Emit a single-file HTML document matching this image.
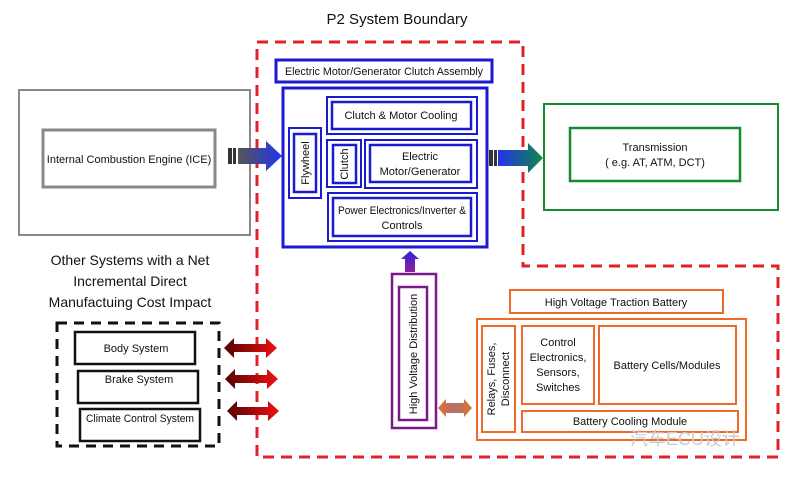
<!DOCTYPE html>
<html><head><meta charset="utf-8"><style>
html,body{margin:0;padding:0;background:#fff;}
svg{display:block;font-family:"Liberation Sans",Arial,sans-serif;}
</style></head><body>
<svg width="800" height="480" viewBox="0 0 800 480" xmlns="http://www.w3.org/2000/svg">
<defs>
<linearGradient id="gb" x1="0" x2="1"><stop offset="0" stop-color="#555"/><stop offset="1" stop-color="#2233ee"/></linearGradient>
<linearGradient id="bg" x1="0" x2="1"><stop offset="0" stop-color="#2233ee"/><stop offset="1" stop-color="#118844"/></linearGradient>
<linearGradient id="pu" x1="0" y1="0" x2="0" y2="1"><stop offset="0" stop-color="#3322dd"/><stop offset="1" stop-color="#882299"/></linearGradient>
<linearGradient id="rd" x1="0" x2="1"><stop offset="0" stop-color="#550000"/><stop offset="1" stop-color="#ee1111"/></linearGradient>
<linearGradient id="or" x1="0" x2="1"><stop offset="0" stop-color="#e07030"/><stop offset="0.5" stop-color="#b07070"/><stop offset="1" stop-color="#e07030"/></linearGradient>
</defs>
<text x="397" y="24" font-size="15" text-anchor="middle" fill="#111">P2 System Boundary</text>
<path d="M257,42 H523 V266 H778 V457 H257 Z" fill="none" stroke="#e0202a" stroke-width="3" stroke-dasharray="11,7"/>
<rect x="19" y="90" width="231" height="145" fill="none" stroke="#888" stroke-width="2"/>
<rect x="43" y="130" width="172" height="57" fill="none" stroke="#888" stroke-width="3"/>
<text x="129" y="163" font-size="11" text-anchor="middle" fill="#111">Internal Combustion Engine (ICE)</text>
<rect x="228" y="148" width="4" height="16" fill="#333"/><rect x="233" y="148" width="3" height="16" fill="#333"/>
<polygon points="238,148 266,148 266,141 282,156 266,171 266,164 238,164" fill="url(#gb)"/>
<rect x="276" y="60" width="216" height="22" fill="none" stroke="#1a1ad0" stroke-width="3"/>
<text x="384" y="75" font-size="11" text-anchor="middle" fill="#111" textLength="198" lengthAdjust="spacingAndGlyphs">Electric Motor/Generator Clutch Assembly</text>
<rect x="283" y="88" width="204" height="159" fill="none" stroke="#1a1ad0" stroke-width="3"/>
<rect x="289" y="128" width="32" height="70" fill="none" stroke="#1a1ad0" stroke-width="2"/>
<rect x="294" y="134" width="22" height="58" fill="none" stroke="#1a1ad0" stroke-width="2.5"/>
<text transform="translate(309,163) rotate(-90)" font-size="11" text-anchor="middle" fill="#111">Flywheel</text>
<rect x="327" y="97" width="150" height="37" fill="none" stroke="#1a1ad0" stroke-width="2"/>
<rect x="332" y="102" width="139" height="27" fill="none" stroke="#1a1ad0" stroke-width="2.5"/>
<text x="401" y="119" font-size="11" text-anchor="middle" fill="#111">Clutch &amp; Motor Cooling</text>
<rect x="327" y="140" width="34" height="47" fill="none" stroke="#1a1ad0" stroke-width="2"/>
<rect x="333" y="145" width="23" height="38" fill="none" stroke="#1a1ad0" stroke-width="2.5"/>
<text transform="translate(348,164) rotate(-90)" font-size="11" text-anchor="middle" fill="#111">Clutch</text>
<rect x="365" y="140" width="112" height="48" fill="none" stroke="#1a1ad0" stroke-width="2"/>
<rect x="370" y="145" width="101" height="37" fill="none" stroke="#1a1ad0" stroke-width="2.5"/>
<text x="420" y="160" font-size="11" text-anchor="middle" fill="#111">Electric</text>
<text x="420" y="175" font-size="11" text-anchor="middle" fill="#111">Motor/Generator</text>
<rect x="328" y="193" width="149" height="48" fill="none" stroke="#1a1ad0" stroke-width="2"/>
<rect x="333" y="198" width="138" height="38" fill="none" stroke="#1a1ad0" stroke-width="2.5"/>
<text x="402" y="214" font-size="11" text-anchor="middle" fill="#111" textLength="128" lengthAdjust="spacingAndGlyphs">Power Electronics/Inverter &amp;</text>
<text x="402" y="229" font-size="11" text-anchor="middle" fill="#111">Controls</text>
<rect x="489" y="150" width="4" height="16" fill="#333"/><rect x="494" y="150" width="3" height="16" fill="#333"/>
<polygon points="498,150 528,150 528,143 543,158 528,173 528,166 498,166" fill="url(#bg)"/>
<rect x="544" y="104" width="234" height="106" fill="none" stroke="#168a2e" stroke-width="2"/>
<rect x="570" y="128" width="170" height="53" fill="none" stroke="#168a2e" stroke-width="2.5"/>
<text x="655" y="151" font-size="11" text-anchor="middle" fill="#111">Transmission</text>
<text x="655" y="166" font-size="11" text-anchor="middle" fill="#111">( e.g. AT, ATM, DCT)</text>
<polygon points="405,272 405,259 401,259 410,251 419,259 415,259 415,272" fill="url(#pu)"/>
<rect x="392" y="274" width="44" height="154" fill="none" stroke="#7a1a8a" stroke-width="2.5"/>
<rect x="399" y="287" width="28" height="133" fill="none" stroke="#7a1a8a" stroke-width="2.5"/>
<text transform="translate(417,354) rotate(-90)" font-size="11" text-anchor="middle" fill="#111">High Voltage Distribution</text>
<polygon points="438,408 446,399 446,403 464,403 464,399 472,408 464,417 464,413 446,413 446,417" fill="url(#or)"/>
<rect x="510" y="290" width="213" height="23" fill="none" stroke="#ec6a2a" stroke-width="2"/>
<text x="616" y="306" font-size="11" text-anchor="middle" fill="#111">High Voltage Traction Battery</text>
<rect x="477" y="319" width="269" height="121" fill="none" stroke="#ec6a2a" stroke-width="2"/>
<rect x="482" y="326" width="33" height="106" fill="none" stroke="#ec6a2a" stroke-width="2"/>
<text transform="translate(495,379) rotate(-90)" font-size="11" text-anchor="middle" fill="#111">Relays, Fuses,</text>
<text transform="translate(509,379) rotate(-90)" font-size="11" text-anchor="middle" fill="#111">Disconnect</text>
<rect x="522" y="326" width="72" height="78" fill="none" stroke="#ec6a2a" stroke-width="2"/>
<text x="558" y="346" font-size="11" text-anchor="middle" fill="#111">Control</text>
<text x="558" y="361" font-size="11" text-anchor="middle" fill="#111">Electronics,</text>
<text x="558" y="376" font-size="11" text-anchor="middle" fill="#111">Sensors,</text>
<text x="558" y="391" font-size="11" text-anchor="middle" fill="#111">Switches</text>
<rect x="599" y="326" width="137" height="78" fill="none" stroke="#ec6a2a" stroke-width="2"/>
<text x="667" y="369" font-size="11" text-anchor="middle" fill="#111">Battery Cells/Modules</text>
<rect x="522" y="411" width="216" height="21" fill="none" stroke="#ec6a2a" stroke-width="2"/>
<text x="630" y="425" font-size="11" text-anchor="middle" fill="#111">Battery Cooling Module</text>
<text x="685" y="445" font-size="18" text-anchor="middle" fill="#ccc" font-family="'Liberation Sans','Noto Sans CJK SC',sans-serif">汽车ECU设计</text>
<text x="130" y="265" font-size="14" text-anchor="middle" fill="#111">Other Systems with a Net</text>
<text x="130" y="286" font-size="14" text-anchor="middle" fill="#111">Incremental Direct</text>
<text x="130" y="307" font-size="14" text-anchor="middle" fill="#111">Manufactuing Cost Impact</text>
<rect x="57" y="323" width="162" height="123" fill="none" stroke="#111" stroke-width="3" stroke-dasharray="10,7"/>
<rect x="75" y="332" width="120" height="32" fill="none" stroke="#111" stroke-width="2.5"/>
<text x="136" y="352" font-size="11" text-anchor="middle" fill="#111">Body System</text>
<rect x="78" y="371" width="120" height="32" fill="none" stroke="#111" stroke-width="2.5"/>
<text x="139" y="383" font-size="11" text-anchor="middle" fill="#111">Brake System</text>
<rect x="80" y="409" width="120" height="32" fill="none" stroke="#111" stroke-width="2.5"/>
<text x="140" y="422" font-size="11" text-anchor="middle" fill="#111" textLength="108" lengthAdjust="spacingAndGlyphs">Climate Control System</text>
<g fill="url(#rd)">
<polygon points="224,348 234,338 234,344 266,344 266,338 277,348 266,358 266,352 234,352 234,358"/>
<polygon points="225,379 235,369 235,375 267,375 267,369 278,379 267,389 267,383 235,383 235,389"/>
<polygon points="227,411 237,401 237,407 268,407 268,401 279,411 268,421 268,415 237,415 237,421"/>
</g>
</svg>
</body></html>
